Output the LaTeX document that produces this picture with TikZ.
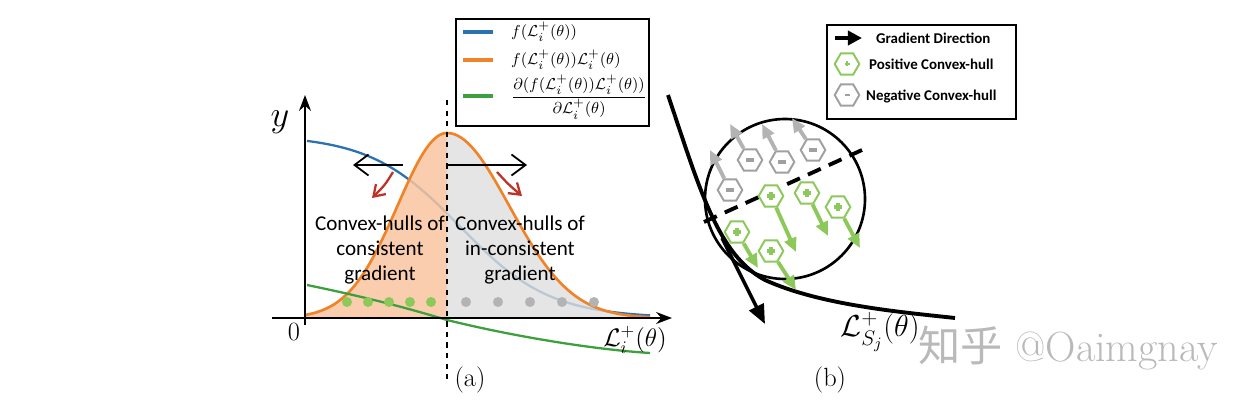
\documentclass[tikz,border=0pt]{standalone}
\usepackage{fontspec}
\usepackage{amsmath}
\setsansfont{Carlito}
\newfontfamily\cjk{Noto Sans CJK SC}
\usetikzlibrary{shapes.geometric,arrows.meta}
\definecolor{cblue}{RGB}{44,114,176}
\definecolor{corange}{RGB}{240,130,40}
\definecolor{cgreen}{RGB}{60,160,60}
\definecolor{lorange}{RGB}{248,196,160}
\definecolor{lgray}{RGB}{222,222,222}
\definecolor{hgreen}{RGB}{140,200,90}
\definecolor{hgray}{RGB}{160,160,160}
\definecolor{cred}{RGB}{190,50,40}
\tikzset{
 hexg/.style={regular polygon,regular polygon sides=6,draw=hgreen,line width=1.1pt,minimum size=14pt,inner sep=0pt,fill=white},
 hexn/.style={regular polygon,regular polygon sides=6,draw=hgray,line width=1.1pt,minimum size=14pt,inner sep=0pt,fill=white},
 garr/.style={-{Triangle[length=8pt,width=7pt]},line width=2.2pt,hgreen},
 narr/.style={-{Triangle[length=8pt,width=7pt]},line width=2.2pt,hgray!80},
 lab/.style={font=\sffamily\fontsize{12}{14.5}\selectfont,align=center},
 legb/.style={font=\sffamily\bfseries\fontsize{8.5}{10}\selectfont,anchor=west}
}
\begin{document}
\begin{tikzpicture}[x=0.02cm,y=-0.02cm]
\useasboundingbox (0,0) rectangle (1240,402);
\draw[cblue,line width=1.3pt,domain=307:650,samples=80] plot (\x,{135+183/(1+exp(-(\x-460)/45))});
\fill[lorange,opacity=0.85,domain=305:447,samples=60] (305,318) -- plot (\x,{318-185*exp(-((\x-447)/70)^2)}) -- (447,318) -- cycle;
\fill[lgray,opacity=0.8,domain=447:650,samples=60] (447,318) -- plot (\x,{318-185*exp(-((\x-447)/88)^2)}) -- (650,318) -- cycle;
\draw[corange,line width=1.5pt,domain=305:447,samples=60] plot (\x,{318-185*exp(-((\x-447)/70)^2)});
\draw[corange,line width=1.5pt,domain=447:650,samples=60] plot (\x,{318-185*exp(-((\x-447)/88)^2)});
\draw[cgreen,line width=1.3pt] (307,285) .. controls (380,300) and (420,312) .. (447,320) .. controls (520,338) and (600,350) .. (650,353);
\foreach \x in {347,368,389,410,431} \fill[hgreen] (\x,302) circle (5);
\foreach \x in {466,498,530,562,594} \fill[hgray!80] (\x,302) circle (5);
\coordinate (o) at (305,318);
\coordinate (ytop) at (305,95);
\coordinate (xr) at (672,318);
\draw[line width=1.3pt,-{Stealth[length=9pt]}] (305,325) -- (ytop);
\draw[line width=1.3pt,-{Stealth[length=9pt]}] (272,318) -- (xr);
\draw[dashed,line width=1pt] (447,100) -- (447,382);
\node at (280,122) {\fontsize{20}{22}\selectfont$y$};
\node at (294,332) {\fontsize{15}{17}\selectfont 0};
\node at (635,340) {\fontsize{14}{16}\selectfont$\mathcal{L}_i^{+}(\theta)$};
\coordinate (m) at (403,165);
\draw[line width=1pt,-{Straight Barb[length=8pt,width=12pt]}] (m) -- (353,165);
\draw[line width=1pt,-{Straight Barb[length=8pt,width=12pt]}] (447,165) -- (527,165);
\draw[cred,line width=1.3pt,-{Straight Barb[length=6pt,width=8pt]}] (393,172) .. controls (385,185) .. (372,198);
\draw[cred,line width=1.3pt,-{Straight Barb[length=6pt,width=8pt]}] (497,172) .. controls (508,184) .. (522,196);
\node[lab] (t1) at (380,250) {Convex-hulls of\\consistent\\gradient};
\node[lab] (t2) at (520,250) {Convex-hulls of\\in-consistent\\gradient};
\node[draw,line width=1pt,minimum width=193*0.02cm,minimum height=107*0.02cm,anchor=north west] (la) at (455,18) {};
\draw[cblue,line width=2pt] (463,32) -- (493,32);
\draw[corange,line width=2pt] (463,60) -- (493,60);
\draw[cgreen,line width=2pt] (463,96) -- (493,96);
\node[anchor=west] at (505,32) {\fontsize{9.5}{11}\selectfont$f(\mathcal{L}_i^{+}(\theta))$};
\node[anchor=west] at (505,60) {\fontsize{9.5}{11}\selectfont$f(\mathcal{L}_i^{+}(\theta))\mathcal{L}_i^{+}(\theta)$};
\node[anchor=west] at (505,97) {\fontsize{9.5}{11}\selectfont$\dfrac{\partial(f(\mathcal{L}_i^{+}(\theta))\mathcal{L}_i^{+}(\theta))}{\partial\mathcal{L}_i^{+}(\theta)}$};
\node at (470,380) {\fontsize{15}{17}\selectfont(a)};
\node at (830,380) {\fontsize{15}{17}\selectfont(b)};
\node[draw,circle,line width=1.5pt,minimum size=160*0.02cm] (c) at (785,199) {};
\draw[line width=2.2pt,dash pattern=on 8pt off 5pt] (704,222) -- (862,150);
\draw[line width=2.2pt] (668,95) .. controls (700,190) and (718,255) .. (765,280) .. controls (820,305) and (900,312) .. (955,318);
\coordinate (ts) at (722,238);
\coordinate (tb) at (765,324);
\draw[line width=2pt,-{Triangle[length=11pt,width=9pt]}] (ts) -- (tb);
\node at (880,332) {\fontsize{18}{20}\selectfont$\mathcal{L}^{+}_{S_j}(\theta)$};
\foreach \i/\a/\b/\c/\d in {1/730/190/710/150,2/750/160/730/124,3/782/162/762/124,4/813/150/792/118}{
 \node[hexn] (n\i) at (\a,\b) {};
 \coordinate (ne\i) at (\c,\d);
 \draw[narr] (n\i) -- (ne\i);
 \fill[hgray] ([xshift=-2.5pt,yshift=-1.1pt]n\i.center) rectangle ([xshift=2.5pt,yshift=1.1pt]n\i.center);
}
\foreach \i/\a/\b/\c/\d in {1/737/232/758/268,2/771/196/796/252,3/807/193/828/236,4/838/207/860/248,5/771/251/796/290}{
 \node[hexg] (p\i) at (\a,\b) {};
 \coordinate (pe\i) at (\c,\d);
 \draw[garr] (p\i) -- (pe\i);
 \fill[hgreen] ([xshift=-2.5pt,yshift=-1pt]p\i.center) rectangle ([xshift=2.5pt,yshift=1pt]p\i.center);
 \fill[hgreen] ([xshift=-1pt,yshift=-2.5pt]p\i.center) rectangle ([xshift=1pt,yshift=2.5pt]p\i.center);
}
\node[draw,line width=1pt,minimum width=189*0.02cm,minimum height=94*0.02cm,anchor=north west] (lb) at (826,24) {};
\coordinate (la1) at (835,38); \coordinate (la2) at (862,38);
\draw[line width=2.5pt,-{Triangle[length=8pt,width=8pt]}] (la1) -- (la2);
\node[hexg] at (847,64) {};
\fill[hgreen] (844.5,63) rectangle (849.5,65); \fill[hgreen] (846,61.5) rectangle (848,66.5);
\node[hexn] at (847,95) {};
\fill[hgray] (844.5,94) rectangle (849.5,96);
\node[legb] at (870,38) {Gradient Direction};
\node[legb] at (863,64) {Positive Convex-hull};
\node[legb] at (860,97) {Negative Convex-hull};
\node[anchor=west,text=gray!55,font=\fontsize{24}{26}\selectfont] at (912,348) {{\cjk 知乎} @Oaimgnay};
\end{tikzpicture}
\end{document}
